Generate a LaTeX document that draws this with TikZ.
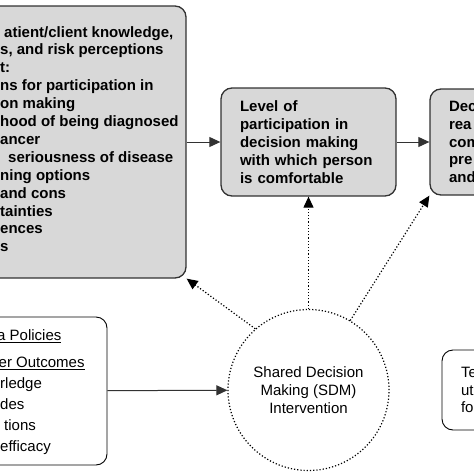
\documentclass[tikz,border=0pt]{standalone}
\usepackage{fontspec}
\setmainfont{Liberation Sans}
\usetikzlibrary{arrows.meta}
\definecolor{boxgray}{RGB}{216,216,216}
\definecolor{edgegray}{RGB}{50,50,50}

\tikzset{
  graybox/.style={draw=edgegray, line width=1.3pt, fill=boxgray, rounded corners=11pt},
  whitebox/.style={draw=black, line width=0.9pt, fill=white, rounded corners=11pt},
  boldtext/.style={font=\fontsize{15pt}{17.9pt}\selectfont\bfseries, align=left, inner sep=0pt},
  plaintext/.style={font=\fontsize{15pt}{17.8pt}\selectfont, align=left, inner sep=0pt},
  dotcircle/.style={circle, draw=black, dotted, line width=1.2pt, minimum size=161pt},
  solidarrow/.style={-{Triangle[length=11pt,width=10pt]}, draw=edgegray, line width=1pt},
  dotarrow/.style={-{Triangle[length=11pt,width=10pt]}, draw=black, line width=1.2pt, dotted},
}

\begin{document}
\begin{tikzpicture}[x=1pt, y=-1pt]
\useasboundingbox (0,0) rectangle (474,474);
\clip (0,0) rectangle (474,474);

\node [graybox, minimum width=386pt, minimum height=272pt] (know) at (-7,142) {};
\node [boldtext, anchor=north west] (knowtext) at (0,26) {\hspace*{4pt}atient/client knowledge,\\
s, and risk perceptions\\
t:\\
ns for participation in\\
on making\\
hood of being diagnosed\\
ancer\\
\hspace*{8pt}seriousness of disease\\
ning options\\
and cons\\
tainties\\
ences\\
s};

\node [graybox, boldtext, inner xsep=19pt, text width=137pt, minimum height=108pt] (level) at (308.5,142) {Level of\\ participation in\\ decision making\\ with which person\\ is comfortable};
\node [graybox, boldtext, inner xsep=19pt, text width=62pt, minimum height=106pt] (decide) at (480,142) {Dec\\ rea\\ com\\ pre\\ and};

\node [whitebox, minimum width=207pt, minimum height=148pt] (policy) at (3.5,391) {};
\node [plaintext, font=\fontsize{15pt}{21pt}\selectfont, anchor=north west] (policytext) at (0,329.3) {\hspace*{-3pt}\underline{a Policies}\\[6pt]
\hspace*{-1.5pt}\underline{er Outcomes}\\
rledge\\
des\\
\hspace*{4pt}tions\\
efficacy};

\node [dotcircle, plaintext, align=center] (sdm) at (308.5,390) {Shared Decision\\ Making (SDM)\\ Intervention};
\node [whitebox, plaintext, inner xsep=19pt, text width=40pt, minimum height=80pt] (tech) at (481,390) {Te\\ ut\\ fo};

\draw [solidarrow] (know) -- (level);
\draw [solidarrow] (level) -- (decide);
\draw [solidarrow] (policy) -- (sdm);
\draw [dotarrow] (sdm.131) -- (know.south east);
\draw [dotarrow] (sdm) -- (level);
\draw [dotarrow] (sdm.59) -- (decide.south west);
\end{tikzpicture}
\end{document}
